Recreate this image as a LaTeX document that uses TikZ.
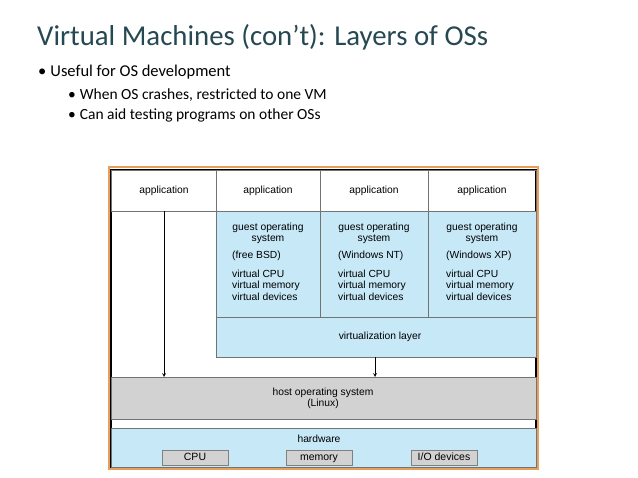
\documentclass[tikz,border=0pt]{standalone}
\usepackage{fontspec}
\setmainfont{Carlito}
\newfontfamily\arialf{Liberation Sans}
\definecolor{titlec}{RGB}{38,72,82}
\definecolor{vmblue}{RGB}{198,232,247}
\definecolor{hostgray}{RGB}{210,210,210}
\definecolor{framec}{RGB}{230,160,90}
\begin{document}
\begin{tikzpicture}[x=1pt,y=-1pt,
    lbl/.style={font=\arialf\fontsize{10.3}{11.3}\selectfont, align=center, inner sep=0},
    lbll/.style={font=\arialf\fontsize{10.3}{11.3}\selectfont, align=left, anchor=north west, inner sep=0},
    box/.style={draw=black!55, line width=0.5pt},
    part/.style={draw=black!50, fill=hostgray, minimum width=66pt, minimum height=15pt, inner sep=0, text height=7.5pt, text depth=2pt, font=\arialf\fontsize{10.5}{11}\selectfont},
    arr/.style={->, >=stealth, line width=0.7pt}]
\useasboundingbox (0,0) rectangle (638,478);
% title and bullets
\node[anchor=west, text=titlec, font=\fontsize{28.8}{32}\selectfont, inner sep=0] (title) at (37,37) {Virtual Machines (con’t): Layers of OSs};
\node[anchor=west, font=\fontsize{16.5}{19}\selectfont, inner sep=0] (b1) at (38,72) {•\hspace{4pt}Useful for OS development};
\node[anchor=west, font=\fontsize{15.5}{17}\selectfont, inner sep=0] (b2) at (68,95) {•\hspace{4pt}When OS crashes, restricted to one VM};
\node[anchor=west, font=\fontsize{15.5}{17}\selectfont, inner sep=0] (b3) at (68,115) {•\hspace{4pt}Can aid testing programs on other OSs};
% frame
\draw[framec, line width=1.5pt] (109,167) rectangle (538,469);
\draw[black, line width=1.2pt, fill=white] (111,170) rectangle (536,467);
% applications
\draw[box] (111,170) rectangle (216,211);
\draw[box] (216,170) rectangle (320,211);
\draw[box] (320,170) rectangle (428,211);
\draw[box] (428,170) rectangle (536,211);
\node[lbl] (a1) at (164,191) {application};
\node[lbl] (a2) at (268,191) {application};
\node[lbl] (a3) at (374,191) {application};
\node[lbl] (a4) at (482,191) {application};
% guests
\draw[box, fill=vmblue] (216,211) rectangle (320,317);
\draw[box, fill=vmblue] (320,211) rectangle (428,317);
\draw[box, fill=vmblue] (428,211) rectangle (536,317);
\node[lbl] (g1) at (268,233) {guest operating\\system};
\node[lbl] (g2) at (374,233) {guest operating\\system};
\node[lbl] (g3) at (482,233) {guest operating\\system};
\node[lbll] (o1) at (232,251) {(free BSD)};
\node[lbll] (o2) at (338,251) {(Windows NT)};
\node[lbll] (o3) at (446,251) {(Windows XP)};
\node[lbll] (v1) at (232,270) {virtual CPU\\virtual memory\\virtual devices};
\node[lbll] (v2) at (338,270) {virtual CPU\\virtual memory\\virtual devices};
\node[lbll] (v3) at (446,270) {virtual CPU\\virtual memory\\virtual devices};
% virtualization layer
\draw[box, fill=vmblue] (216,317) rectangle (536,357);
\node[lbl] (vl) at (380,337) {virtualization layer};
% host
\draw[box, fill=hostgray] (111,377) rectangle (536,419);
\node[lbl] (host) at (323,398) {host operating system\\(Linux)};
\coordinate (h1) at (164,377);
\coordinate (h2) at (375,377);
\coordinate (s1) at (164,211);
\coordinate (s2) at (375,357);
\draw[arr] (s1) -- (h1);
\draw[arr] (s2) -- (h2);
% hardware
\draw[box, fill=vmblue] (111,428) rectangle (536,467);
\node[lbl] (hw) at (319,439) {hardware};
\node[part] (cpu) at (195,458) {CPU};
\node[part] (mem) at (319,458) {memory};
\node[part] (io) at (444,458) {I/O devices};
\end{tikzpicture}
\end{document}
